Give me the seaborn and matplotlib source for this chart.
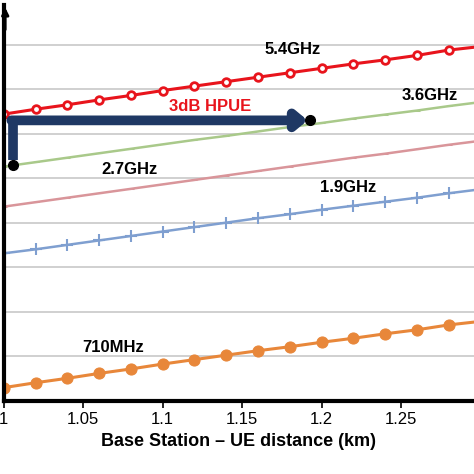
import numpy as np
import pandas as pd
import matplotlib
matplotlib.use("Agg")
import matplotlib.pyplot as plt
import seaborn as sns

distance = [1.00, 1.02, 1.04, 1.06, 1.08, 1.10, 1.12, 1.14, 1.16, 1.18, 1.20, 1.22, 1.24, 1.26, 1.28, 1.30]
loss_54 = [6.44, 6.55, 6.65, 6.76, 6.86, 6.97, 7.07, 7.17, 7.27, 7.37, 7.47, 7.57, 7.66, 7.76, 7.88, 7.96]
loss_36 = [5.26, 5.36, 5.46, 5.56, 5.66, 5.76, 5.86, 5.95, 6.05, 6.15, 6.24, 6.34, 6.43, 6.52, 6.62, 6.71]
loss_27 = [4.36, 4.46, 4.56, 4.66, 4.76, 4.86, 4.96, 5.06, 5.16, 5.26, 5.36, 5.46, 5.55, 5.65, 5.75, 5.84]
loss_19 = [3.31, 3.40, 3.50, 3.60, 3.70, 3.80, 3.90, 4.00, 4.10, 4.19, 4.29, 4.38, 4.47, 4.56, 4.66, 4.75]
loss_710 = [0.29, 0.40, 0.50, 0.61, 0.71, 0.82, 0.92, 1.02, 1.12, 1.21, 1.31, 1.40, 1.50, 1.59, 1.70, 1.78]
labels = ["5.4GHz", "3.6GHz", "2.7GHz", "1.9GHz", "710MHz"]

series = {"5.4GHz": loss_54, "3.6GHz": loss_36, "2.7GHz": loss_27, "1.9GHz": loss_19, "710MHz": loss_710}
df = pd.concat([pd.DataFrame({"x": distance, "y": v, "band": k}) for k, v in series.items()])

sns.set_style("white")
plt.rcParams["font.family"] = ["Liberation Sans", "DejaVu Sans"]
fig = plt.figure(figsize=(4.74, 4.74), dpi=100)
ax = fig.add_axes([0.008, 0.155, 0.992, 0.835])

styles = {
    "5.4GHz": dict(color="#e8141c", marker="o", ms=5.5, mfc="white", mec="#e8141c", mew=2, lw=2.2),
    "3.6GHz": dict(color="#a9c98a", marker="_", ms=5, mec="#a9c98a", lw=1.8),
    "2.7GHz": dict(color="#d9959a", marker="_", ms=5, mec="#d9959a", lw=1.8),
    "1.9GHz": dict(color="#7f9fd0", marker="+", ms=8, mec="#7f9fd0", mew=1.5, lw=1.8),
    "710MHz": dict(color="#e8873a", marker="o", ms=8, mec="#e8873a", lw=2.2),
}
for k in labels:
    sub = df[df.band == k]
    st = styles[k].copy()
    c = st.pop("color")
    sns.lineplot(data=sub, x="x", y="y", ax=ax, color=c, legend=False, **st)

ax.set_xlim(1.0, 1.296)
ax.set_ylim(0, 8.9)
ax.set_yticks(range(1, 9))
ax.set_yticklabels([])
ax.tick_params(axis="y", length=0)
ax.grid(axis="y", color="#c8c8c8", lw=1.2)
ax.set_xticks([1.0, 1.05, 1.1, 1.15, 1.2, 1.25])
ax.set_xticklabels(["1", "1.05", "1.1", "1.15", "1.2", "1.25"], fontsize=12)
ax.tick_params(axis="x", length=5, width=1.2, direction="out", bottom=True, colors="black")
ax.set_xlabel("Base Station – UE distance (km)", fontsize=13, fontweight="bold", color="black")
ax.set_ylabel("")
for s in ["top", "right"]:
    ax.spines[s].set_visible(False)
for s in ["left", "bottom"]:
    ax.spines[s].set_linewidth(3)
    ax.spines[s].set_color("black")
ax.annotate("", xy=(0.003, 1.0), xytext=(0.003, 0.93), xycoords="axes fraction",
            arrowprops=dict(arrowstyle="-|>", color="black", lw=2))

navy = "#1f3864"
ax.plot([1.006, 1.006], [5.4, 6.3], color=navy, lw=7, solid_capstyle="butt")
ax.annotate("", xy=(1.193, 6.3), xytext=(1.003, 6.3),
            arrowprops=dict(arrowstyle="-|>,head_length=0.6,head_width=0.5", color=navy, lw=7))
ax.plot([1.006, 1.193], [5.3, 6.3], "o", color="black", ms=7, ls="none")

kw = dict(fontsize=12, fontweight="bold", ha="center", va="center", color="black")
ax.text(1.13, 6.62, "3dB HPUE", **{**kw, "color": "#e8141c"})
ax.text(1.182, 7.9, "5.4GHz", **kw)
ax.text(1.268, 6.85, "3.6GHz", **kw)
ax.text(1.079, 5.2, "2.7GHz", **kw)
ax.text(1.217, 4.8, "1.9GHz", **kw)
ax.text(1.069, 1.2, "710MHz", **kw)

fig.savefig("out.png", dpi=100)
